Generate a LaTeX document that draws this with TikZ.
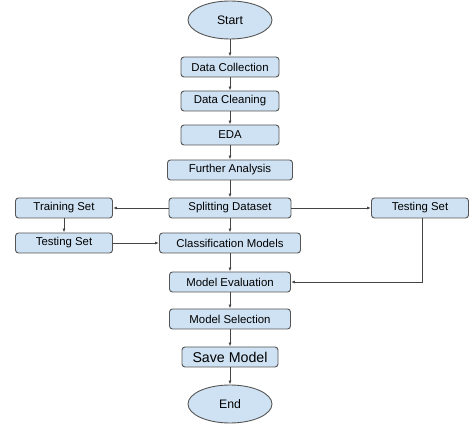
\documentclass[tikz,border=0pt]{standalone}
\usepackage{fontspec}
\setmainfont{Liberation Sans}
\usetikzlibrary{shapes.geometric,arrows.meta}
\definecolor{boxfill}{HTML}{CFE2F3}
\definecolor{boxline}{HTML}{555555}
\tikzset{
  procbox/.style={draw=boxline, line width=0.9pt, fill=boxfill, rounded corners=3pt,
    minimum height=20pt, inner sep=0pt, font=\fontsize{11.4}{12}\selectfont},
  termnode/.style={draw=boxline, line width=0.9pt, fill=boxfill, ellipse,
    minimum width=84pt, minimum height=38pt, inner sep=0pt, font=\fontsize{12.3}{13}\selectfont},
  conn/.style={draw=boxline!80!black, line width=0.8pt, -{Latex[length=4pt,width=3pt]}}
}
\begin{document}
\begin{tikzpicture}[x=1pt,y=-1pt]
\useasboundingbox (0,0) rectangle (474,427);
\node[termnode] (start) at (230,20) {Start};
\node[procbox, minimum width=98pt] (coll) at (230,67) {Data Collection};
\node[procbox, minimum width=98pt] (clean) at (230,101) {Data Cleaning};
\node[procbox, minimum width=98pt] (eda) at (230,135) {EDA};
\node[procbox, minimum width=125pt] (further) at (230,170) {Further Analysis};
\node[procbox, minimum width=122pt] (split) at (230,208) {Splitting Dataset};
\node[procbox, minimum width=97pt] (train) at (64,208) {Training Set};
\node[procbox, minimum width=97pt] (testl) at (64,243) {Testing Set};
\node[procbox, minimum width=141pt] (class) at (230,243) {Classification Models};
\node[procbox, minimum width=97pt] (testr) at (420,208) {Testing Set};
\node[procbox, minimum width=121pt] (eval) at (230,282) {Model Evaluation};
\node[procbox, minimum width=121pt] (sel) at (230,319) {Model Selection};
\node[procbox, minimum width=96pt, font=\fontsize{14.2}{15}\selectfont] (save) at (230,357) {Save Model};
\node[termnode] (end) at (230,404) {End};
\coordinate (corner) at (422,282);

\draw[conn] (start) -- (coll);
\draw[conn] (coll) -- (clean);
\draw[conn] (clean) -- (eda);
\draw[conn] (eda) -- (further);
\draw[conn] (further) -- (split);
\draw[conn] (split) -- (train);
\draw[conn] (split) -- (testr);
\draw[conn] (train) -- (testl);
\draw[conn] (testl) -- (class);
\draw[conn] (split) -- (class);
\draw[conn] (class) -- (eval);
\draw[conn] (testr.south -| corner) -- (corner) -- (eval.east);
\draw[conn] (eval) -- (sel);
\draw[conn] (sel) -- (save);
\draw[conn] (save) -- (end);
\end{tikzpicture}
\end{document}
